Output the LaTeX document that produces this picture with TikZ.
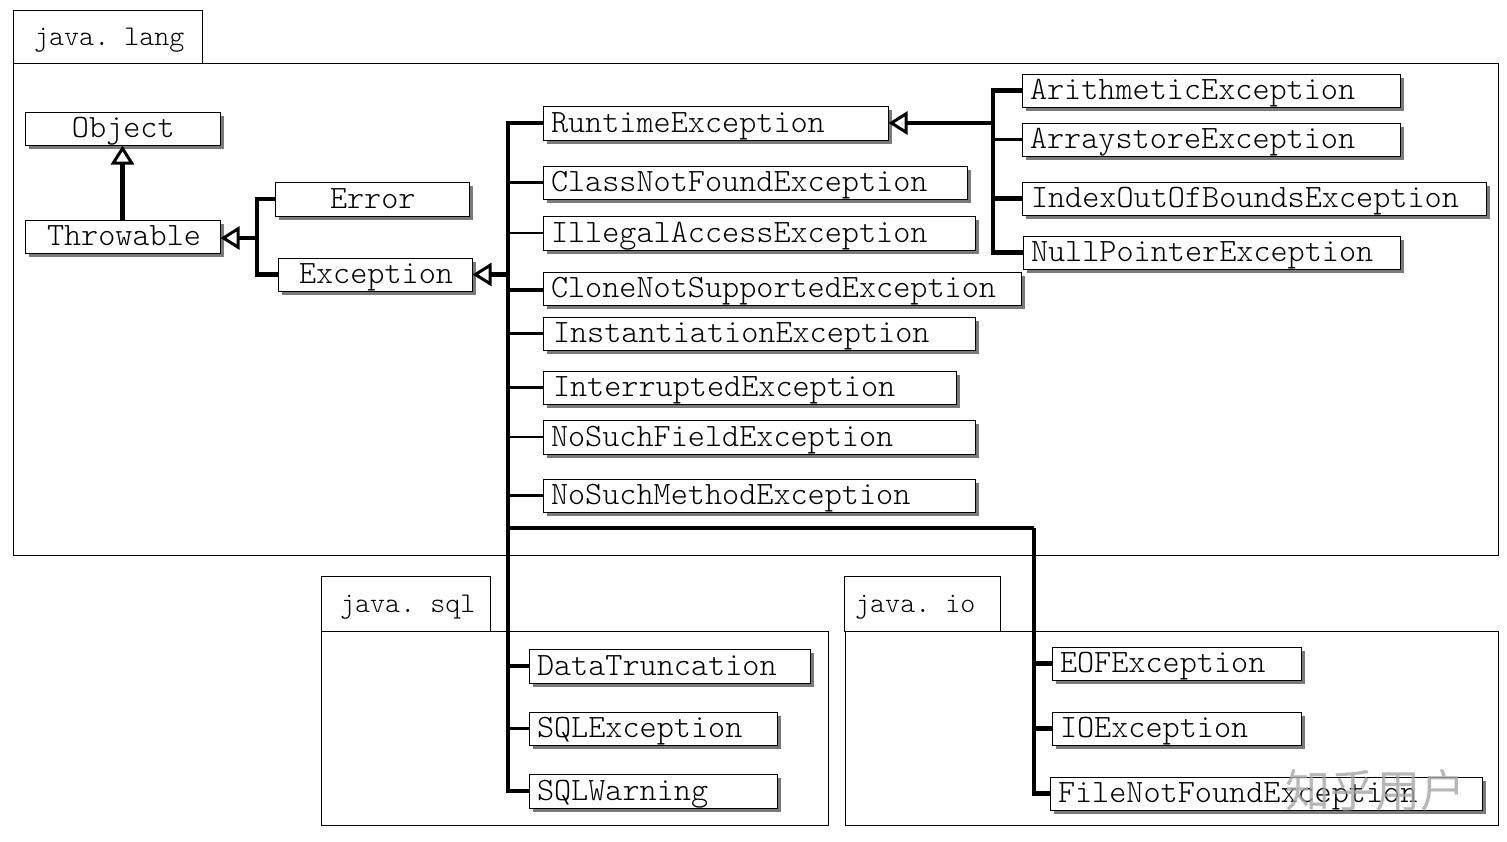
\documentclass[tikz,border=0pt]{standalone}
\usepackage{fontspec}
\setmonofont{Latin Modern Mono Light}
\usetikzlibrary{arrows.meta,shadows}
\newfontfamily\cjkwm{Noto Sans CJK SC}
\definecolor{shadowgray}{gray}{0.48}
\newcommand{\cls}[7]{% name, left, top, right, bottom, text pad, text
  \pgfmathsetmacro{\boxW}{#4-#2}\pgfmathsetmacro{\boxH}{#5-#3}
  \node[clsbox,minimum width=\boxW pt,minimum height=\boxH pt,text width=\boxW pt] (#1) at ({(#2+#4)/2},{(#3+#5)/2}) {\hspace*{#6pt}#7};}
\tikzset{
  x=1pt,y=-1pt,
  clsbox/.style={draw=black,line width=1pt,fill=white,inner xsep=0pt,inner ysep=0pt,align=left,
    font=\fontsize{32.6}{35}\selectfont\ttfamily,text height=24pt,text depth=6pt,
    general shadow={shadow xshift=3.6pt,shadow yshift=-3.6pt,fill=shadowgray}},
  pkgframe/.style={draw=black,line width=1pt,fill=white},
  pkglabel/.style={font=\fontsize{28.6}{30}\selectfont\ttfamily,text=black,inner sep=0pt},
  thick link/.style={line width=4.4pt,draw=black},
  mid link/.style={line width=3.2pt,draw=black},
  thin link/.style={line width=2.2pt,draw=black},
  inherit/.style={line width=4.4pt,draw=black,shorten >=0pt,
    -{Triangle[open,length=19pt,width=23pt,line width=3pt]}},
}
\begin{document}
\begin{tikzpicture}
\useasboundingbox (0,0) rectangle (1507,841);
\fill[white] (0,0) rectangle (1507,841);
% package frames
\draw[pkgframe] (13,10) rectangle (202,63);
\draw[pkgframe] (13,63) rectangle (1498,555);
\draw[pkgframe] (321,576) rectangle (490,631);
\draw[pkgframe] (321,631) rectangle (828,825);
\draw[pkgframe] (844,576) rectangle (1000,631);
\draw[pkgframe] (845,631) rectangle (1498,825);
\node[pkglabel,anchor=base west] (lang) at (34,45) {java. lang};
\node[pkglabel,anchor=base west] (sql) at (340,612) {java. sql};
\node[pkglabel,anchor=base west] (io) at (855,612) {java. io};
% trunks
\coordinate (tE) at (508,0);
\coordinate (tA) at (257,0);
\coordinate (tR) at (993,0);
\coordinate (tI) at (1034,0);
\coordinate (tJ) at (506,528);
% classes
\cls{obj}{25}{112}{220}{145}{47}{Object}
\cls{thr}{25}{220}{220}{253}{22}{Throwable}
\cls{err}{275}{182}{469}{216}{55}{Error}
\cls{exc}{278}{258}{472}{291}{21}{Exception}
\cls{rt}{543}{106}{888}{140}{8}{RuntimeException}
\cls{cnf}{543}{166}{967}{199}{8}{ClassNotFoundException}
\cls{iae}{543}{216}{975}{250}{8}{IllegalAccessException}
\cls{cns}{543}{272}{1021}{305}{8}{CloneNotSupportedException}
\cls{ins}{543}{317}{975}{350}{10}{InstantiationException}
\cls{ite}{543}{371}{956}{404}{10}{InterruptedException}
\cls{nsf}{543}{420}{975}{454}{8}{NoSuchFieldException}
\cls{nsm}{543}{479}{975}{512}{8}{NoSuchMethodException}
\cls{ari}{1022}{74}{1400}{107}{8}{ArithmeticException}
\cls{arr}{1022}{123}{1400}{156}{8}{ArraystoreException}
\cls{idx}{1022}{182}{1486}{215}{9}{IndexOutOfBoundsException}
\cls{npe}{1023}{236}{1400}{269}{8}{NullPointerException}
\cls{dat}{529}{649}{810}{683}{8}{DataTruncation}
\cls{sqe}{529}{712}{777}{745}{8}{SQLException}
\cls{sqw}{529}{774}{777}{808}{8}{SQLWarning}
\cls{eof}{1052}{647}{1301}{680}{8}{EOFException}
\cls{ioe}{1052}{712}{1301}{745}{8}{IOException}
\cls{fnf}{1050}{777}{1482}{810}{8}{FileNotFoundException}
% connectors
\draw[inherit] (thr.north) -- (obj.south);
\draw[thick link] (err.west) -- (tA |- err.west) -- (tA |- exc.west) -- (exc.west);
\draw[inherit] (tA |- thr.east) ++(0,1.5) coordinate (ja) -- (thr.east |- ja);
\draw[thick link] (rt.west) -- (tE |- rt.west) -- (tE |- sqw.west) -- (sqw.west);
\draw[inherit] (tE |- exc.east) -- (exc.east);
\draw[thin link] (tE |- cnf.west) -- (cnf.west);
\draw[thin link] (tE |- iae.west) -- (iae.west);
\draw[thick link] (tE |- cns.west) ++(0,1.5) coordinate (jc) -- (cns.west |- jc);
\draw[mid link] (tE |- ins.west) -- (ins.west);
\draw[mid link] (tE |- ite.west) -- (ite.west);
\draw[thin link] (tE |- nsf.west) -- (nsf.west);
\draw[mid link] (tE |- nsm.west) -- (nsm.west);
\draw[mid link] (tE |- dat.west) -- (dat.west);
\draw[mid link] (tE |- sqe.west) -- (sqe.west);
\draw[mid link] (tJ) -- (tI |- tJ);
\draw[thick link] (tI |- tJ) -- (tI |- fnf.west) -- (fnf.west);
\draw[thick link] (tI |- eof.west) -- (eof.west);
\draw[thick link] (tI |- ioe.west) -- (ioe.west);
\draw[thick link] (ari.west) -- (tR |- ari.west) -- (tR |- npe.west) -- (npe.west);
\draw[mid link] (tR |- arr.west) -- (arr.west);
\draw[thick link] (tR |- idx.west) -- (idx.west);
\draw[inherit] (tR |- rt.east) -- (rt.east);
% watermark
\node[font=\fontsize{45}{45}\selectfont\cjkwm,text=black!35,inner sep=0pt,opacity=0.8] (wm) at (1375,790) {知乎用户};
\end{tikzpicture}
\end{document}
